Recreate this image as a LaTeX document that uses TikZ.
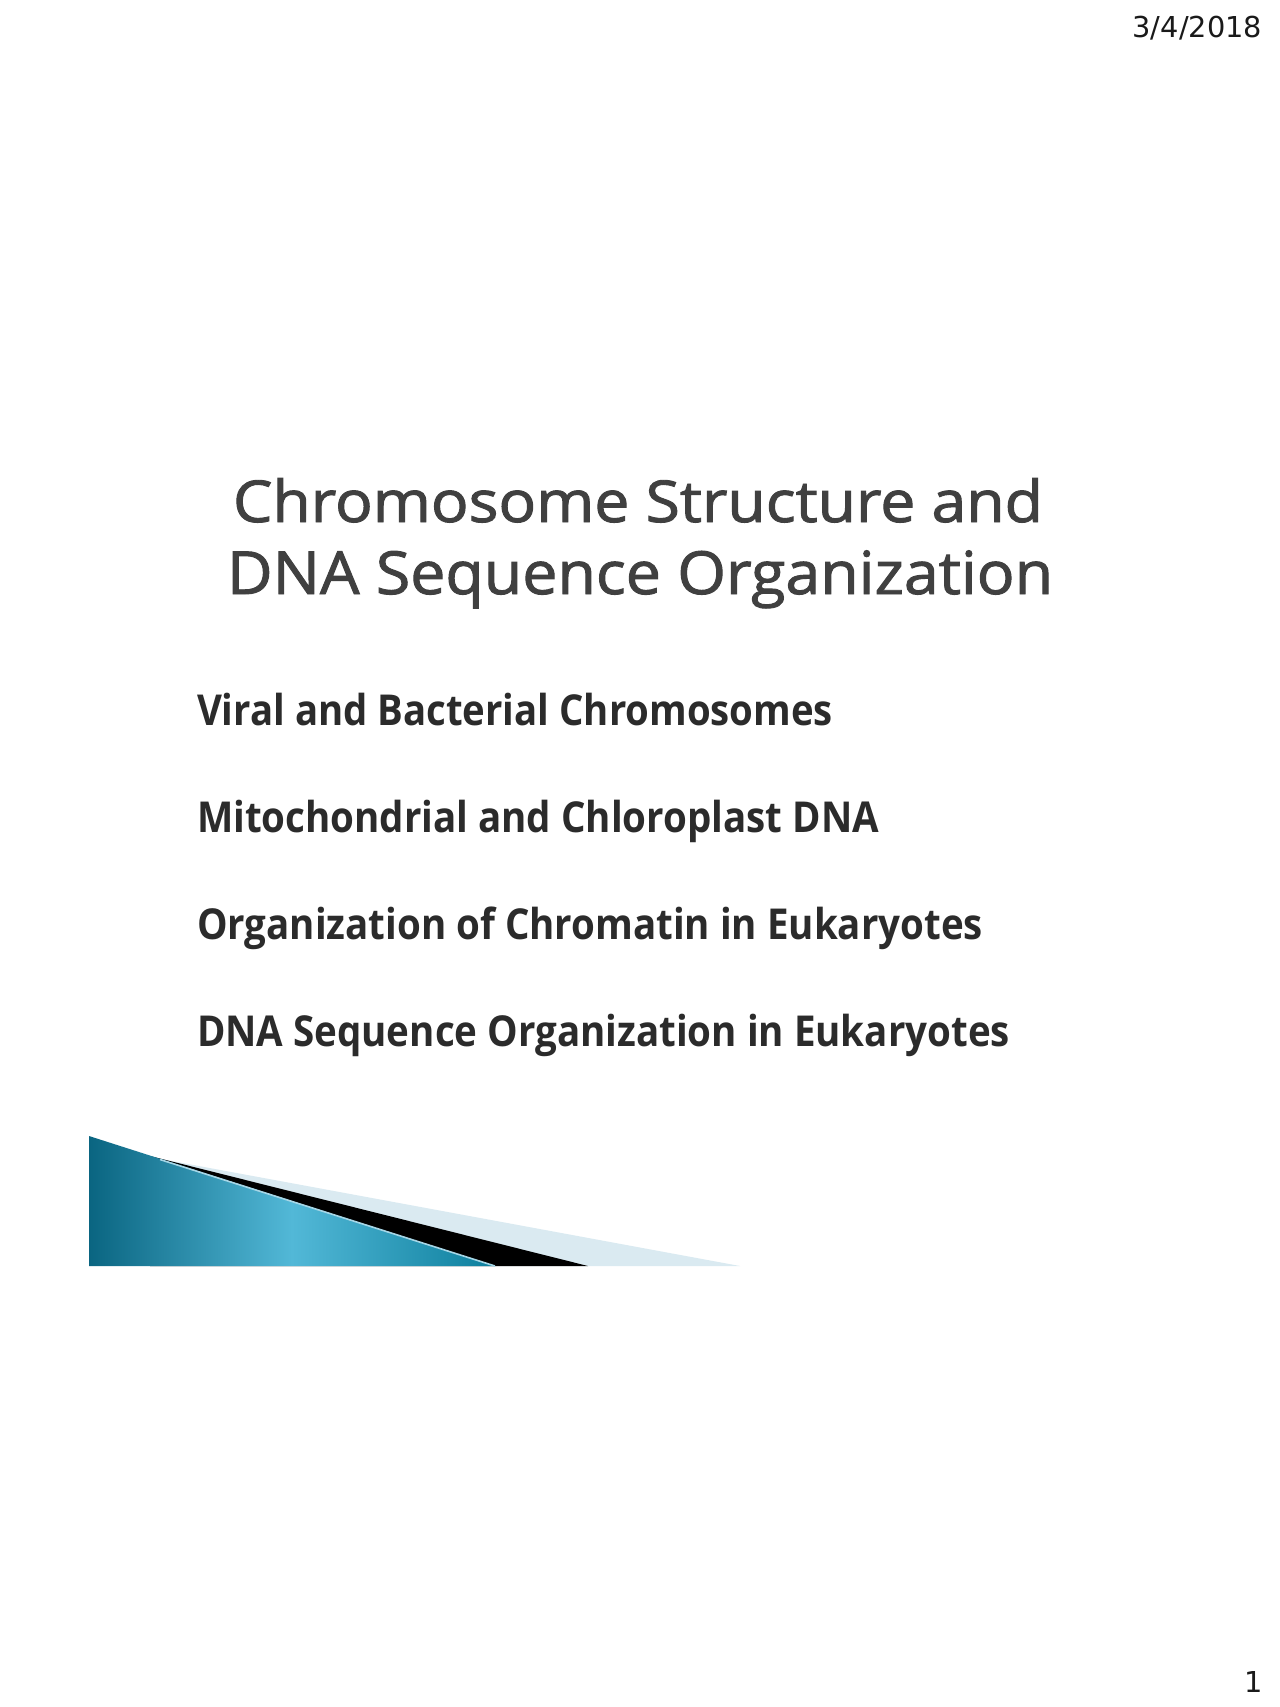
\documentclass[tikz,border=0pt]{standalone}
\usepackage{fontspec}
\setmainfont{Open Sans}
\newfontfamily\datefont{DejaVu Sans}
\newfontfamily\titlefont{Open Sans}[FakeBold=1.6]
\newfontfamily\bulfont{Open Sans}
\definecolor{titlegray}{HTML}{404040}
\definecolor{bulgray}{HTML}{2B2B2B}
\definecolor{dategray}{HTML}{1A1A1A}
\definecolor{tealdark}{HTML}{0A6581}
\definecolor{teallight}{HTML}{52B8D7}
\definecolor{tealmid}{HTML}{0D7F9D}
\definecolor{paleblue}{HTML}{DAEAF1}
\definecolor{edgeblue}{HTML}{A6D6E6}
\newlength\fitwd
\newlength\fitht
% #1 target width, #2 target cap height, #3 text
\newcommand\fitline[3]{\settowidth\fitwd{#3}\settoheight\fitht{H}%
  \pgfmathsetmacro\fitsx{(#1)/\fitwd}\pgfmathsetmacro\fitsy{(#2)/\fitht}%
  \scalebox{\fitsx}[\fitsy]{#3}}
\tikzset{
  txt/.style={inner sep=0pt, outer sep=0pt},
  titleline/.style={txt, anchor=base, font=\titlefont, text=titlegray},
  bulline/.style={txt, anchor=base west, font=\bulfont\bfseries, text=bulgray},
  corner/.style={txt, anchor=base east, font=\datefont\fontsize{14.4bp}{17bp}\selectfont, text=dategray},
}
\begin{document}
\begin{tikzpicture}[x=0.5bp, y=-0.5bp]
  \fill[white] (0,0) rectangle (1280,1707);
  \useasboundingbox (0,0) rectangle (1280,1707);
  % date and page number
  \node[corner] (date) at (1262,37) {3/4/2018};
  \node[corner] (page) at (1263,1692) {1};
  % title
  \node[titleline] (t1) at (638,522) {\fitline{405bp}{20.6bp}{Chromosome Structure and}};
  \node[titleline] (t2) at (640,594) {\fitline{413bp}{21.2bp}{DNA Sequence Organization}};
  % topics
  \node[bulline] (b1) at (197,725)  {\fitline{318bp}{15.2bp}{Viral and Bacterial Chromosomes}};
  \node[bulline] (b2) at (197,832)  {\fitline{341bp}{15.2bp}{Mitochondrial and Chloroplast DNA}};
  \node[bulline] (b3) at (197,939)  {\fitline{393bp}{15.2bp}{Organization of Chromatin in Eukaryotes}};
  \node[bulline] (b4) at (197,1046) {\fitline{406.5bp}{15.2bp}{DNA Sequence Organization in Eukaryotes}};
  % decorative wedge
  \fill[paleblue] (150,1157) -- (740,1266) -- (150,1266) -- cycle;
  \fill[black] (150,1156) -- (588,1266) -- (150,1266) -- cycle;
  \shade[left color=tealdark, right color=tealmid, middle color=teallight]
    (89,1136) -- (495,1266) -- (89,1266) -- cycle;
  \draw[edgeblue, line width=0.8bp] (160,1159.5) -- (495,1266);
\end{tikzpicture}
\end{document}
